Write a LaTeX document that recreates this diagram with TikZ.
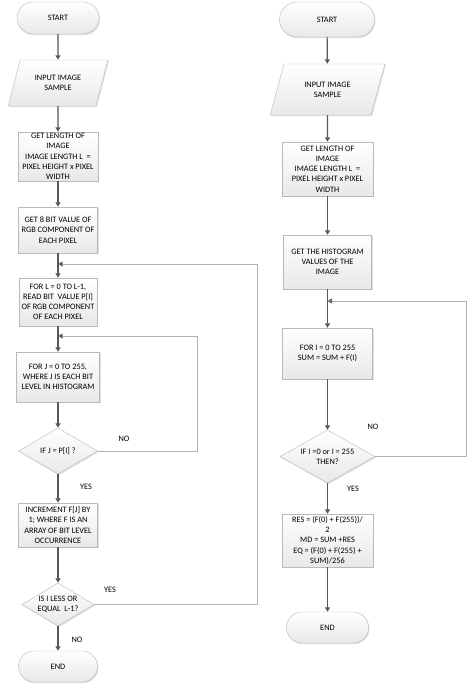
\documentclass[tikz,border=0pt]{standalone}
\usepackage{fontspec}
\setmainfont{Carlito}
\usetikzlibrary{arrows.meta,shapes.geometric,shapes.misc,shadows}

\tikzset{
  base/.style={draw=gray!55, top color=white, bottom color=gray!18,
    drop shadow={opacity=.25,shadow xshift=1pt,shadow yshift=-1.2pt},
    align=center, inner sep=0pt, text=black,
    font=\fontsize{8.3}{10.2}\selectfont},
  term/.style={base, rounded rectangle},
  io/.style={base, trapezium, trapezium left angle=65, trapezium right angle=115,
    trapezium stretches=true},
  proc/.style={base, rectangle},
  dec/.style={base, diamond, inner xsep=-22pt, inner ysep=-9pt},
  flow/.style={draw=black!65, line width=1.2pt, -{Triangle[width=5pt,length=4.5pt]}},
  back/.style={draw=gray!60, line width=.9pt, -{Triangle[width=5pt,length=4.5pt,color=black!60]}},
  lbl/.style={text=black, font=\fontsize{8.3}{10}\selectfont},
}

\begin{document}
\begin{tikzpicture}[x=1pt,y=-1pt]
  \useasboundingbox[fill=white] (0,0) rectangle (474,695);

  % left chart
  \node[term, minimum width=82pt, minimum height=32pt] (startL) at (58,18) {START};
  \node[io, minimum width=100pt, minimum height=46pt] (inL) at (58,83) {INPUT IMAGE\\SAMPLE};
  \node[proc, minimum width=80pt, minimum height=49pt] (lenL) at (58,156.5)
    {GET LENGTH OF\\IMAGE\\IMAGE LENGTH L~~=\\PIXEL HEIGHT x PIXEL\\WIDTH};
  \node[proc, minimum width=79pt, minimum height=46pt] (bitL) at (58,230)
    {GET 8 BIT VALUE OF\\RGB COMPONENT OF\\EACH PIXEL};
  \node[proc, minimum width=78pt, minimum height=48pt] (forL) at (58,302)
    {FOR L = 0 TO L-1,\\READ BIT~ VALUE P[I]\\OF RGB COMPONENT\\OF EACH PIXEL};
  \node[proc, minimum width=83pt, minimum height=50pt] (forJ) at (58,377)
    {FOR J = 0 TO 255,\\WHERE J IS EACH BIT\\LEVEL IN HISTOGRAM};
  \node[dec, minimum width=79pt, minimum height=46pt] (ifJ) at (58,451) {IF J = P[I] ?};
  \node[proc, minimum width=79pt, minimum height=44pt] (incL) at (58,525)
    {INCREMENT F[J] BY\\1; WHERE F IS AN\\ARRAY OF BIT LEVEL\\OCCURRENCE};
  \node[dec, minimum width=72pt, minimum height=43pt] (isI) at (58,604.5) {IS I LESS OR\\EQUAL~ L-1?};
  \node[term, minimum width=79pt, minimum height=31pt] (endL) at (58,666.5) {END};

  \coordinate (jL1) at (58,264);  \coordinate (cL1) at (257,264);
  \coordinate (jL2) at (58,336);  \coordinate (cL2) at (197,336);

  \draw[flow] (startL) -- (inL);
  \draw[flow] (inL) -- (lenL);
  \draw[flow] (lenL) -- (bitL);
  \draw[flow] (bitL) -- (forL);
  \draw[flow] (forL) -- (forJ);
  \draw[flow] (forJ) -- (ifJ);
  \draw[flow] (ifJ) -- (incL);
  \draw[flow] (incL) -- (isI);
  \draw[flow] (isI) -- (endL);
  \draw[back] (ifJ.east) -| (cL2) -- (jL2);
  \draw[back] (isI.east) -| (cL1) -- (jL1);

  \node[lbl] (noJ) at (124,439) {NO};
  \node[lbl] (yesJ) at (86,487) {YES};
  \node[lbl] (yesI) at (110,590) {YES};
  \node[lbl] (noI) at (77,640) {NO};

  % right chart
  \node[term, minimum width=95pt, minimum height=35pt] (startR) at (327,19.5) {START};
  \node[io, minimum width=115pt, minimum height=51pt] (inR) at (327.5,89.5) {INPUT IMAGE\\SAMPLE};
  \node[proc, minimum width=91pt, minimum height=54pt] (lenR) at (327.5,169)
    {GET LENGTH OF\\IMAGE\\IMAGE LENGTH L~~=\\PIXEL HEIGHT x PIXEL\\WIDTH};
  \node[proc, minimum width=88pt, minimum height=54pt] (histR) at (327.5,262)
    {GET THE HISTOGRAM\\VALUES OF THE\\IMAGE};
  \node[proc, minimum width=90pt, minimum height=51pt] (forR) at (327.5,353.5)
    {FOR I = 0 TO 255\\SUM = SUM + F(I)};
  \node[dec, minimum width=95pt, minimum height=53pt] (ifR) at (327.5,456.5) {IF I =0 or I = 255\\THEN?};
  \node[proc, minimum width=91pt, minimum height=53pt] (resR) at (327.5,540.5)
    {RES = (F(0) + F(255))/\\2\\MD = SUM +RES\\EQ = (F(0) + F(255) +\\SUM)/256};
  \node[term, minimum width=82pt, minimum height=31pt] (endR) at (327.5,627.5) {END};

  \coordinate (jR) at (327.5,301);  \coordinate (cR) at (466,301);

  \draw[flow] (startR) -- (inR);
  \draw[flow] (inR) -- (lenR);
  \draw[flow] (lenR) -- (histR);
  \draw[flow] (histR) -- (forR);
  \draw[flow] (forR) -- (ifR);
  \draw[flow] (ifR) -- (resR);
  \draw[flow] (resR) -- (endR);
  \draw[back] (ifR.east) -| (cR) -- (jR);

  \node[lbl] (noR) at (373,427) {NO};
  \node[lbl] (yesR) at (353,489) {YES};
\end{tikzpicture}
\end{document}
